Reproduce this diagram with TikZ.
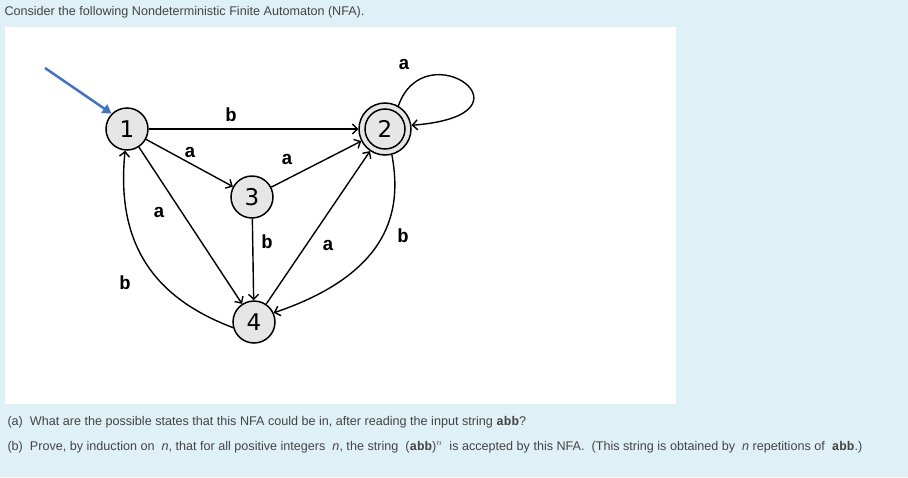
\documentclass[tikz,border=0pt]{standalone}
\usepackage{fontspec}
\setmainfont{Liberation Sans}
\setmonofont{Liberation Mono}
\newfontfamily\lblfont{Liberation Mono}
\newfontfamily\numfont{DejaVu Sans}
\usetikzlibrary{arrows.meta}
\definecolor{bgc}{HTML}{DFF0F7}
\definecolor{txt}{HTML}{444444}
\definecolor{stc}{HTML}{E6E6E6}
\definecolor{arrb}{HTML}{4472C4}
\tikzset{x=1pt,y=-1pt,
 st/.style={circle,draw=black,fill=stc,line width=1.5pt,minimum size=42pt,inner sep=0pt,font=\numfont\fontsize{23}{23}\selectfont},
 tr/.style={draw,line width=1.4pt,-{Straight Barb[length=5pt,width=10pt]}},
 lb/.style={font=\lblfont\bfseries\fontsize{19}{19}\selectfont},
 q/.style={anchor=west,text=txt,font=\fontsize{12.6}{14}\selectfont}}
\begin{document}
\begin{tikzpicture}
\fill[bgc] (0,0) rectangle (908,477);
\useasboundingbox (0,0) rectangle (908,477);
\fill[white] (5,27) rectangle (676,404);
\node[q] (title) at (1,12) {Consider the following Nondeterministic Finite Automaton (NFA).};
\node[q] (qa) at (4,422) {(a)\ \ What are the possible states that this NFA could be in, after reading the input string {\ttfamily\bfseries abb}?};
\node[q] (qb) at (4,447) {(b)\ \ Prove, by induction on \ \emph{n}, that for all positive integers \ \emph{n}, the string \ ({\ttfamily\bfseries abb})$^{n}$\ \ is accepted by this NFA.\ \ (This string is obtained by \ \emph{n} repetitions of \ {\ttfamily\bfseries abb}.)};
\node[st] (s1) at (127,129) {1};
\node[st,minimum size=52pt] (s2) at (385,129) {};
\node[circle,draw,line width=1.5pt,minimum size=40pt,inner sep=0pt,font=\numfont\fontsize{23}{23}\selectfont] (s2i) at (385,129) {2};
\node[st] (s3) at (252,197) {3};
\node[st] (s4) at (254,322) {4};
\coordinate (st0) at (45,68);
\draw[arrb,line width=2.5pt,-{Triangle[length=9pt,width=10pt]}] (st0) -- (s1.135);
\draw[tr] (s1) -- (s2);
\draw[tr] (s1) -- (s3);
\draw[tr] (s1) -- (s4);
\draw[tr] (s3) -- (s2);
\draw[tr] (s3) -- (s4);
\draw[tr] (s4) -- (s2);
\draw[tr] (s4.195) .. controls (160,300) and (115,250) .. (s1.265);
\draw[tr] (s2.285) .. controls (400,200) and (400,270) .. (s4.25);
\draw[tr] (s2.60) .. controls (425,30) and (545,115) .. (s2.8);
\node[lb] (l12) at (231,115) {b};
\node[lb] (l13) at (190,152) {a};
\node[lb] (l32) at (287,159) {a};
\node[lb] (l14) at (159,212) {a};
\node[lb] (l34) at (267,242) {b};
\node[lb] (l42) at (328,245) {a};
\node[lb] (l24) at (403,236) {b};
\node[lb] (l41) at (125,283) {b};
\node[lb] (l22) at (404,64) {a};
\end{tikzpicture}
\end{document}
